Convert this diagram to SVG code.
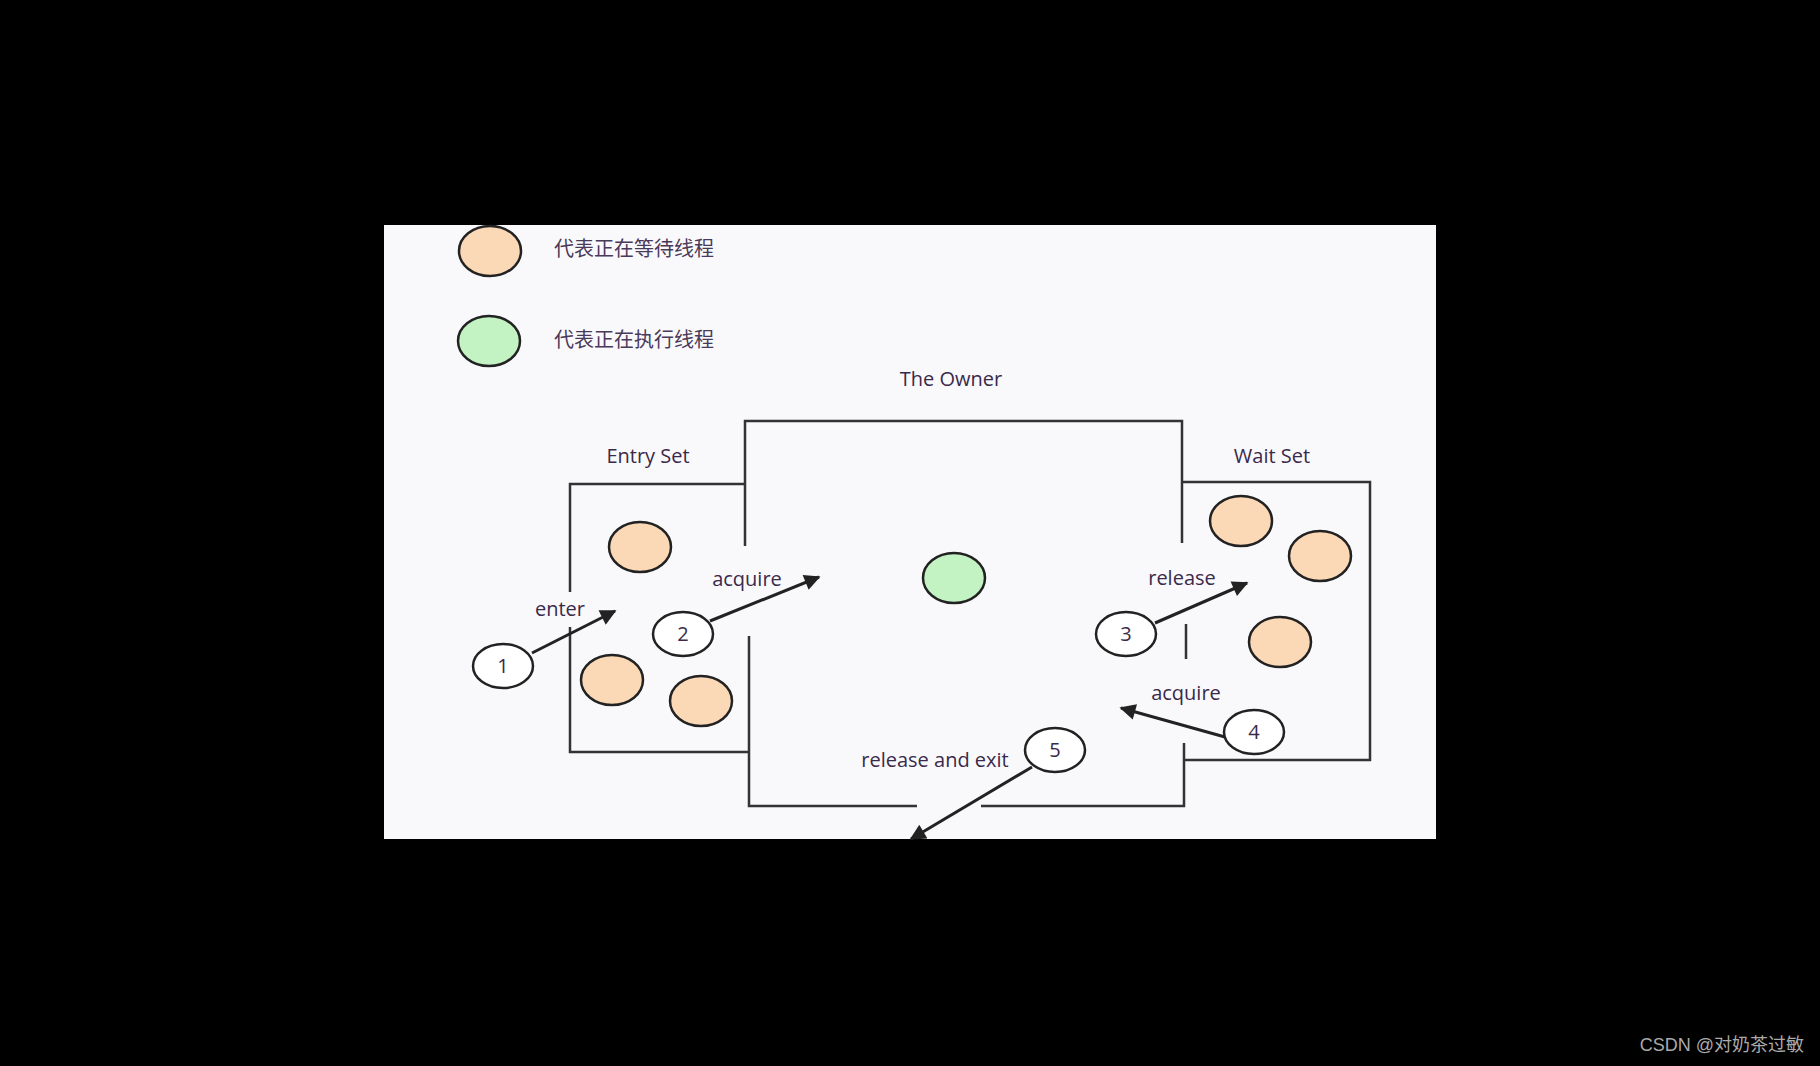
<svg xmlns="http://www.w3.org/2000/svg" width="1820" height="1066" viewBox="0 0 1820 1066">
<defs>
<marker id="ah" viewBox="0 0 10 10" refX="9" refY="5" markerWidth="8" markerHeight="7" orient="auto" markerUnits="userSpaceOnUse" style="overflow:visible">
<path d="M0,0 L10,5 L0,10 z" fill="#222"/>
</marker>
<marker id="a" viewBox="0 0 10 10" refX="9" refY="5" markerWidth="24" markerHeight="16" orient="auto" markerUnits="userSpaceOnUse"><path d="M0,0 L10,5 L0,10 z" fill="#222"/></marker>
</defs>
<style>
.t{font-family:"Open Sans","Noto Sans","Noto Sans CJK SC",sans-serif;font-size:20px;fill:#3a2a4a;text-anchor:middle}
.cn{font-family:"Noto Sans CJK SC",sans-serif;font-size:20px;fill:#4a3a5a}
.w{fill:#fcd9b6;stroke:#222;stroke-width:2.5}
.g{fill:#c3f2c3;stroke:#222;stroke-width:2.5}
.n{fill:#fff;stroke:#222;stroke-width:2.5}
.b{fill:none;stroke:#333;stroke-width:2.5}
.ar{stroke:#222;stroke-width:3;fill:none;marker-end:url(#a)}
</style>
<rect width="1820" height="1066" fill="#000"/>
<rect x="384" y="225" width="1052" height="614" fill="#f9f9fc"/>
<g id="legend">
<ellipse class="w" cx="490" cy="251" rx="31" ry="25"/>
<text class="cn" x="554" y="256">代表正在等待线程</text>
<ellipse class="g" cx="489" cy="341" rx="31" ry="25"/>
<text class="cn" x="554" y="347">代表正在执行线程</text>
</g>
<g id="owner">
<text class="t" x="951" y="386">The Owner</text>
<path class="b" d="M745,546 V421 H1182 V543 M1186,624 V659 M749,636 V806 H917 M981,806 H1184 V743"/>
<ellipse class="g" cx="954" cy="578" rx="31" ry="25"/>
</g>
<g id="entry-set">
<text class="t" x="648" y="463">Entry Set</text>
<path class="b" d="M570,592 V484 H745 M570,627 V752 H749"/>
<ellipse class="w" cx="640" cy="547" rx="31" ry="25"/>
<ellipse class="w" cx="612" cy="680" rx="31" ry="25"/>
<ellipse class="w" cx="701" cy="701" rx="31" ry="25"/>
</g>
<g id="wait-set">
<text class="t" x="1272" y="463">Wait Set</text>
<path class="b" d="M1182,482 H1370 V760 H1184"/>
<ellipse class="w" cx="1241" cy="521" rx="31" ry="25"/>
<ellipse class="w" cx="1320" cy="556" rx="31" ry="25"/>
<ellipse class="w" cx="1280" cy="642" rx="31" ry="25"/>
</g>
<g id="connectors">
<line class="ar" x1="532" y1="653" x2="615" y2="611"/>
<line class="ar" x1="710" y1="621" x2="819" y2="577"/>
<line class="ar" x1="1155" y1="623" x2="1247" y2="583"/>
<line class="ar" x1="1225" y1="737" x2="1121" y2="708"/>
<line class="ar" x1="1032" y1="767" x2="911" y2="839"/>
<text class="t" x="560" y="616">enter</text>
<text class="t" x="747" y="586">acquire</text>
<text class="t" x="1182" y="585">release</text>
<text class="t" x="1186" y="700">acquire</text>
<text class="t" x="935" y="767">release and exit</text>
</g>
<g id="n1"><ellipse class="n" cx="503" cy="666" rx="30" ry="22"/><text class="t" x="503" y="673">1</text></g>
<g id="n2"><ellipse class="n" cx="683" cy="634" rx="30" ry="22"/><text class="t" x="683" y="641">2</text></g>
<g id="n3"><ellipse class="n" cx="1126" cy="634" rx="30" ry="22"/><text class="t" x="1126" y="641">3</text></g>
<g id="n4"><ellipse class="n" cx="1254" cy="732" rx="30" ry="22"/><text class="t" x="1254" y="739">4</text></g>
<g id="n5"><ellipse class="n" cx="1055" cy="750" rx="30" ry="22"/><text class="t" x="1055" y="757">5</text></g>
<text x="1804" y="1051" style="font-family:'Liberation Sans','Noto Sans CJK SC',sans-serif;font-size:18px;fill:#aaa;text-anchor:end">CSDN @对奶茶过敏</text>
</svg>
